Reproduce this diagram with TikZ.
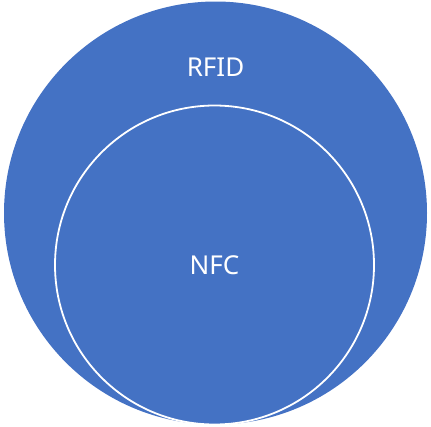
\documentclass[tikz,border=0pt]{standalone}
\usepackage{fontspec}
\setmainfont{Noto Sans}
\usetikzlibrary{positioning}
\definecolor{setblue}{HTML}{4472C4}
\tikzset{
	setlabel/.style={text=white,inner sep=0pt,font=\fontsize{26}{30}\selectfont},
}

\begin{document}
\begin{tikzpicture}[x=1pt,y=-1pt]
	
	\useasboundingbox (0,0) rectangle (431,426);
	
	% outer set
	\fill[setblue] (215.5,213) circle (211.5);
	
	% inner set
	\draw[white,line width=1.8pt] (214.5,265) circle (159.5);
	
	\node[setlabel] (rfid) at (215.5,67) {RFID};
	\node[setlabel] (nfc) at (214.5,265) {NFC};
	
\end{tikzpicture}
\end{document}
